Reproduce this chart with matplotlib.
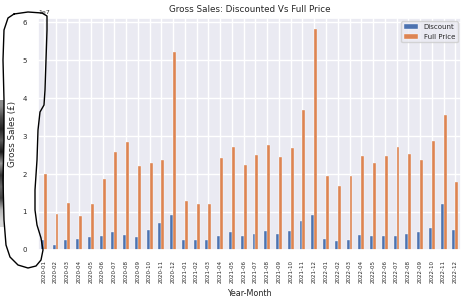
import numpy as np
import pandas as pd
import matplotlib
matplotlib.use("Agg")
import matplotlib.pyplot as plt
import seaborn as sns
from matplotlib.lines import Line2D

sns.set_theme(style="darkgrid")

months = [f"{y}-{m:02d}" for y in (2020, 2021, 2022) for m in range(1, 13)]

# values in units of 1e7 GBP
discount = [0.26, 0.12, 0.26, 0.30, 0.33, 0.38, 0.47, 0.40, 0.35, 0.53, 0.72, 0.91,
            0.25, 0.25, 0.25, 0.38, 0.47, 0.36, 0.43, 0.49, 0.43, 0.49, 0.75, 0.91,
            0.29, 0.24, 0.27, 0.40, 0.38, 0.38, 0.38, 0.42, 0.47, 0.58, 1.21, 0.53]
full_price = [2.00, 0.94, 1.25, 0.90, 1.20, 1.87, 2.59, 2.84, 2.22, 2.30, 2.37, 5.22,
              1.30, 1.22, 1.22, 2.42, 2.72, 2.23, 2.50, 2.76, 2.44, 2.69, 3.68, 5.82,
              1.96, 1.69, 1.96, 2.47, 2.30, 2.47, 2.72, 2.52, 2.37, 2.88, 3.56, 1.79]

df = pd.DataFrame({"Discount": np.array(discount) * 1e7,
                   "Full Price": np.array(full_price) * 1e7}, index=months)

fig = plt.figure(figsize=(4.74, 2.99), dpi=100)
ax = fig.add_axes([0.080, 0.164, 0.893, 0.776])
df.plot(kind="bar", ax=ax, color=["#4c72b0", "#dd8452"], linewidth=0.25, edgecolor="white")

ax.set_title("Gross Sales: Discounted Vs Full Price", fontsize=6.3, pad=4)
ax.set_xlabel("Year-Month", fontsize=5.8, labelpad=4)
ax.set_ylabel("Gross Sales (£)", fontsize=6.3, labelpad=4)
ax.tick_params(axis="x", labelsize=4.0, pad=1.5, rotation=90)
ax.tick_params(axis="y", labelsize=5, pad=2)
ax.yaxis.get_offset_text().set_fontsize(4.5)
ax.legend(loc="upper right", fontsize=5.0, frameon=True)

W, H = 474, 299

# dark smudge strip at the far left edge
strip = fig.add_axes([0, 1 - 227 / H, 4 / W, 127 / H])
grad = np.array([[0.55], [0.3], [0.15], [0.35], [0.1], [0.6], [0.2], [0.4], [0.25], [0.7], [0.85]])
strip.imshow(grad, cmap="gray", aspect="auto", vmin=0, vmax=1, interpolation="bilinear")
strip.set_axis_off()

# hand-drawn loop around the y axis (figure pixel coords, origin top-left)
pts = [(14, 14), (28, 12), (42, 13), (47, 16), (47, 30), (46, 60), (45, 90), (44, 105),
       (40, 112), (38, 130), (37, 160), (35, 190), (35, 210), (37, 225), (41, 238),
       (43, 250), (41, 260), (36, 266), (28, 268), (18, 265), (10, 257), (6, 245),
       (4, 220), (3, 180), (4, 140), (4, 100), (3, 60), (4, 30), (8, 18), (14, 14)]
xs = [p[0] / W for p in pts]
ys = [1 - p[1] / H for p in pts]
fig.add_artist(Line2D(xs, ys, transform=fig.transFigure, color="black", lw=1.0))

fig.savefig("out.png", dpi=100)
